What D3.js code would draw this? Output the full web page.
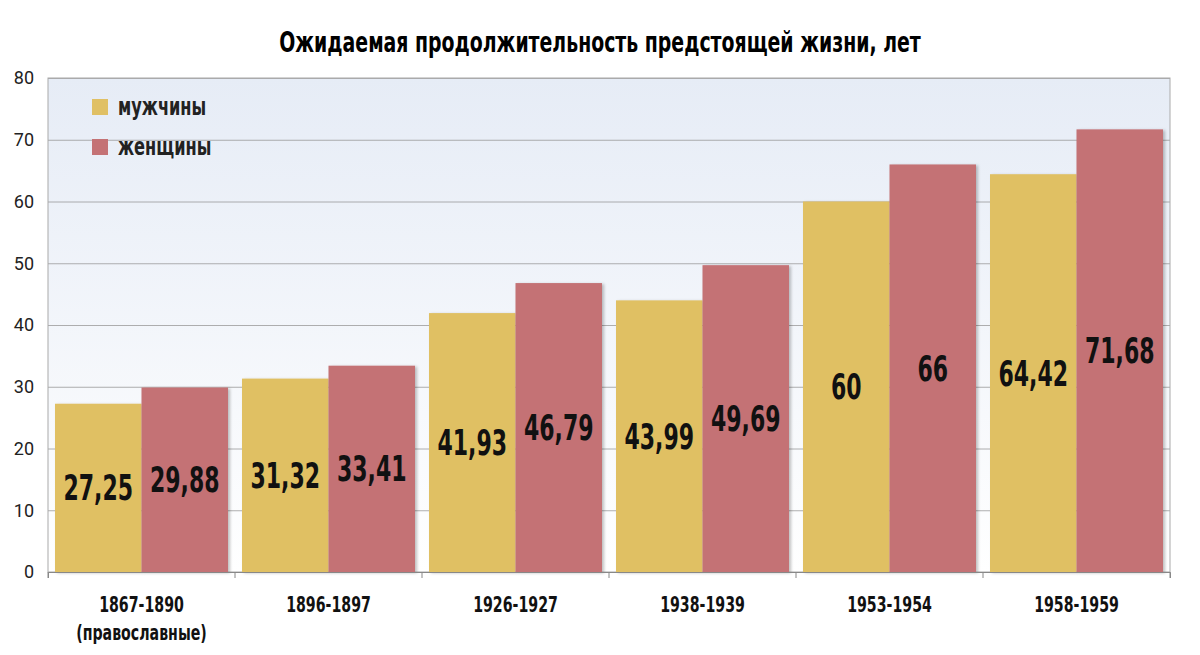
<!DOCTYPE html>
<html><head><meta charset="utf-8">
<script src="https://cdn.jsdelivr.net/npm/d3@7"></script>
<style>body{margin:0;background:#fff}text{font-family:"DejaVu Sans Condensed","DejaVu Sans",sans-serif}</style>
</head><body><svg id="chart" width="1200" height="655"></svg>
<script>
const periods = ["1867-1890", "1896-1897", "1926-1927", "1938-1939", "1953-1954", "1958-1959"];
const subLabels = ["(православные)", "", "", "", "", ""];
const men = [27.25, 31.32, 41.93, 43.99, 60, 64.42];
const women = [29.88, 33.41, 46.79, 49.69, 66, 71.68];
const seriesNames = ["мужчины", "женщины"];
const colors = ["#e0c064", "#c47275"];

const svg = d3.select("#chart");
const margin = { top: 78, right: 30, bottom: 83, left: 48 };
const width = 1200 - margin.left - margin.right;
const height = 655 - margin.top - margin.bottom;

// narrow text: position via translate, squeeze horizontally
function narrow(sel, x, y, k) {
  return sel.attr("transform", `translate(${x},${y}) scale(${k},1)`);
}

const defs = svg.append("defs");
const grad = defs.append("linearGradient").attr("id", "bg").attr("x1", 0).attr("y1", 0).attr("x2", 0).attr("y2", 1);
grad.append("stop").attr("offset", "0%").attr("stop-color", "#e6ecf6");
grad.append("stop").attr("offset", "100%").attr("stop-color", "#ffffff");
const f = defs.append("filter").attr("id", "sh").attr("x", "-10%").attr("y", "-10%").attr("width", "130%").attr("height", "130%");
f.append("feDropShadow").attr("dx", 2).attr("dy", 1).attr("stdDeviation", 1.5).attr("flood-opacity", 0.25);

narrow(svg.append("text"), 600, 52, 0.75).attr("text-anchor", "middle")
  .style("font-size", "28px").style("font-weight", "bold").text("Ожидаемая продолжительность предстоящей жизни, лет");

const g = svg.append("g").attr("transform", `translate(${margin.left},${margin.top})`);
g.append("rect").attr("width", width).attr("height", height).attr("fill", "url(#bg)");

const x = d3.scaleBand().domain(periods).range([0, width]);
const x1 = d3.scaleBand().domain([0, 1]).range([7, x.bandwidth() - 7]);
const y = d3.scaleLinear().domain([0, 80]).range([height, 0]);

g.append("g").call(d3.axisLeft(y).ticks(8).tickSize(-width).tickFormat(""))
  .call(s => s.select(".domain").remove())
  .selectAll("line").attr("stroke", "#9a9a9a").attr("stroke-width", 0.8);
g.append("rect").attr("width", width).attr("height", height).attr("fill", "none").attr("stroke", "#aaa");

const ya = g.append("g").call(d3.axisLeft(y).ticks(8).tickSize(0).tickPadding(14));
ya.select(".domain").remove();
ya.selectAll("text").style("font-size", "18px").attr("fill", "#222").style("font-family", "Roboto, sans-serif");

[men, women].forEach((vals, si) => {
  g.selectAll(".b" + si).data(vals).enter().append("rect")
    .attr("x", (d, i) => x(periods[i]) + x1(si))
    .attr("y", d => y(d)).attr("width", x1.bandwidth()).attr("height", d => height - y(d))
    .attr("fill", colors[si]).attr("filter", "url(#sh)");
  g.selectAll(".l" + si).data(vals).enter().append("text")
    .attr("transform", (d, i) => `translate(${x(periods[i]) + x1(si) + x1.bandwidth() / 2},${y(d / 2)}) scale(0.68,1)`)
    .attr("dy", "0.35em").attr("text-anchor", "middle")
    .style("font-size", "36px").style("font-weight", "bold").attr("fill", "#111")
    .text(d => String(d).replace(".", ","));
});

const xa = g.append("g").attr("transform", `translate(0,${height})`)
  .call(d3.axisBottom(x).tickSize(6).tickFormat(""));
xa.select(".domain").attr("stroke", "#888");
xa.selectAll("line").attr("stroke", "#888").attr("transform", `translate(${-x.bandwidth() / 2},0)`);
periods.forEach((p, i) => {
  const cx = x(p) + x.bandwidth() / 2;
  narrow(g.append("text"), cx, height + 40, 0.75).attr("text-anchor", "middle")
    .style("font-size", "21px").style("font-weight", "bold").attr("fill", "#111").text(p);
  if (subLabels[i]) narrow(g.append("text"), cx, height + 68, 0.75).attr("text-anchor", "middle")
    .style("font-size", "21px").style("font-weight", "bold").attr("fill", "#111").text(subLabels[i]);
});
g.append("line").attr("x1", width).attr("x2", width).attr("y1", height).attr("y2", height + 6).attr("stroke", "#888");

const lg = g.append("g").attr("transform", "translate(44,20)");
seriesNames.forEach((n, i) => {
  lg.append("rect").attr("x", 0).attr("y", i * 40 + 1).attr("width", 16).attr("height", 16).attr("fill", colors[i]);
  narrow(lg.append("text"), 26, i * 40 + 9, 0.75).attr("dy", "0.35em")
    .style("font-size", "24px").style("font-weight", "bold").attr("fill", "#222").text(n);
});
</script></body></html>
